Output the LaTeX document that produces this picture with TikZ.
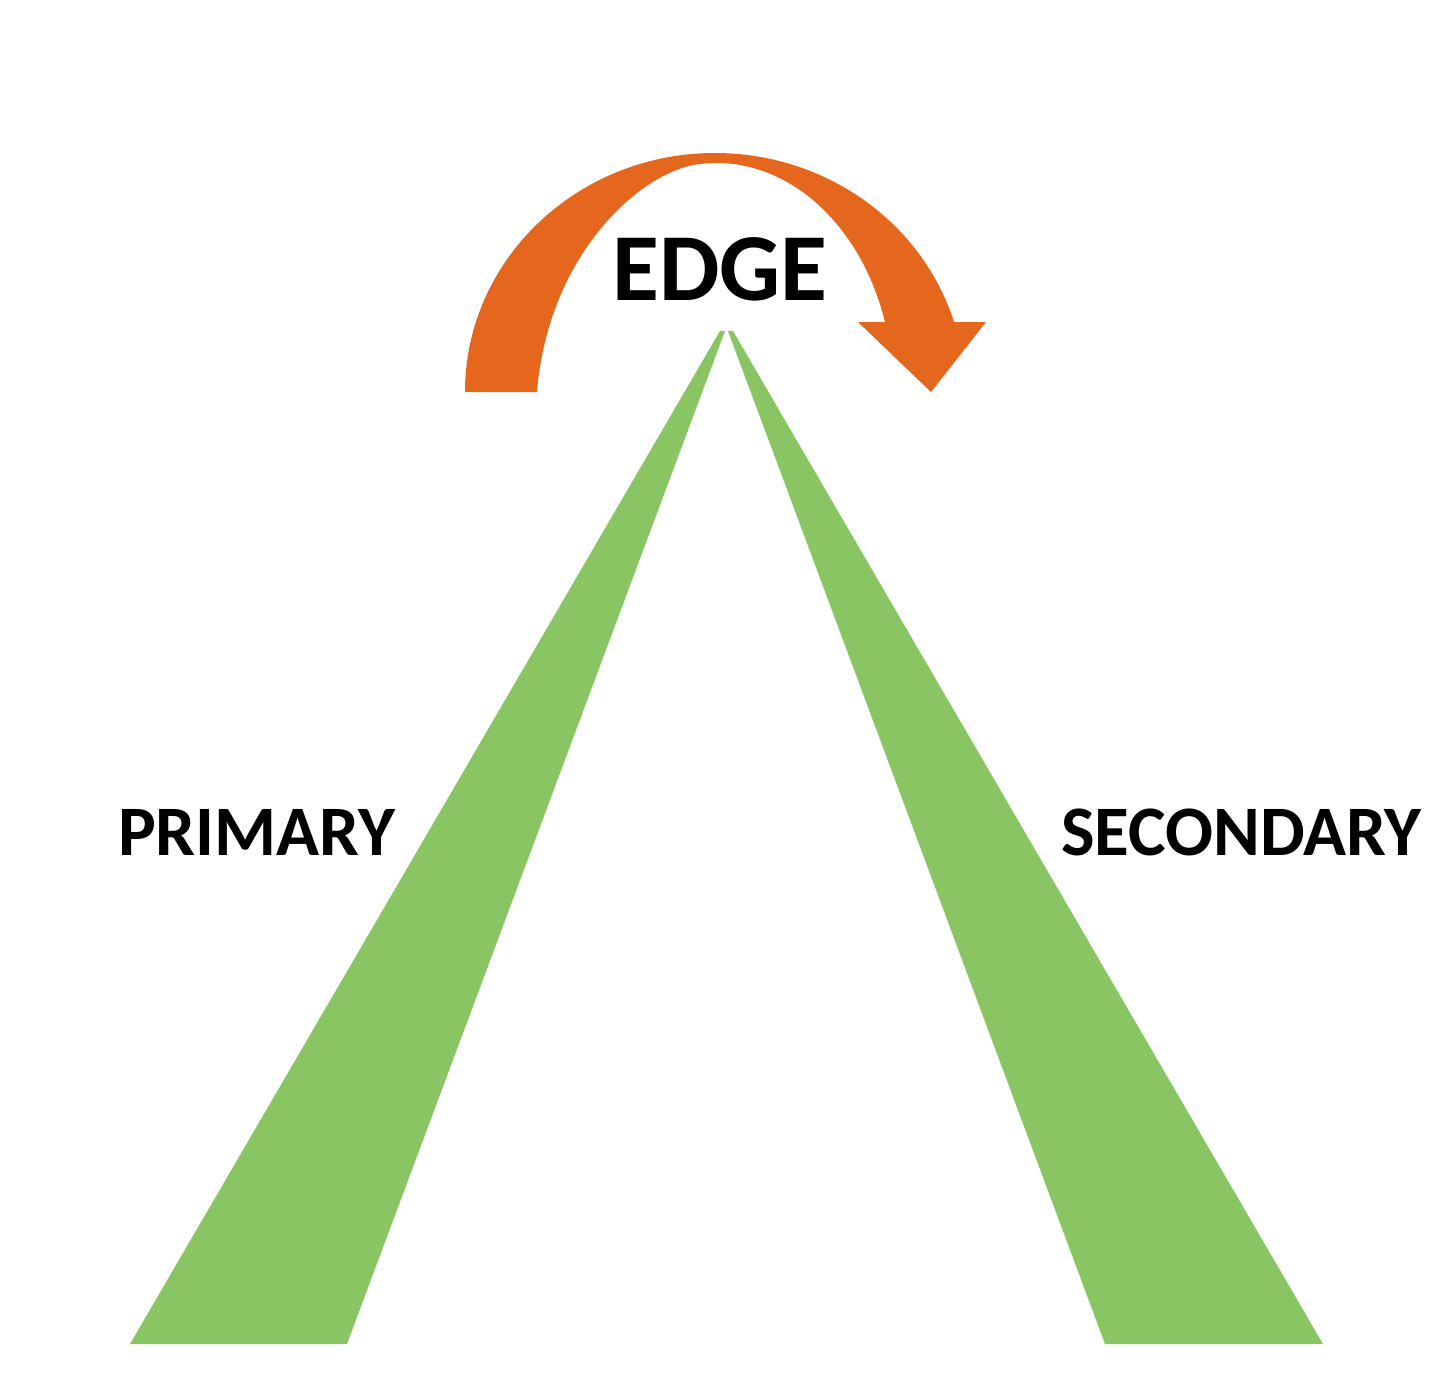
\documentclass[tikz,border=0pt]{standalone}
\usepackage{fontspec}
\setmainfont{Carlito}
\definecolor{arroworange}{RGB}{229,103,30}
\definecolor{beamgreen}{RGB}{137,197,98}
\begin{document}
\begin{tikzpicture}[x=1pt,y=1pt,
  lbl/.style={inner sep=0pt,font=\bfseries},
  beam/.style={fill=beamgreen,draw=none},
  curvearrow/.style={fill=arroworange,draw=none}]
\useasboundingbox (0,0) rectangle (1454,-1398);
% green beams
\path[beam] (720,-331) -- (725,-331) -- (347,-1344) -- (130,-1344) -- cycle;
\path[beam] (728,-331) -- (733,-331) -- (1323,-1344) -- (1105,-1344) -- cycle;
% orange curved arrow
\path[curvearrow] (465,-392) arc[start angle=180,end angle=17.03,x radius=250pt,y radius=239pt]
  -- (986,-322) -- (931,-392) -- (858,-322) -- (885,-322)
  arc[start angle=17.8,end angle=96,x radius=177pt,y radius=229pt]
  .. controls (640,-172) and (548,-255) .. (537,-392) -- cycle;
% labels
\node[lbl,anchor=base] (edge) at (720,-300) {\fontsize{96}{96}\selectfont EDGE};
\node[lbl,anchor=base west] (primary) at (118,-855) {\fontsize{71}{71}\selectfont PRIMARY};
\node[lbl,anchor=base east] (secondary) at (1422,-855) {\fontsize{71}{71}\selectfont SECONDARY};
\end{tikzpicture}
\end{document}
